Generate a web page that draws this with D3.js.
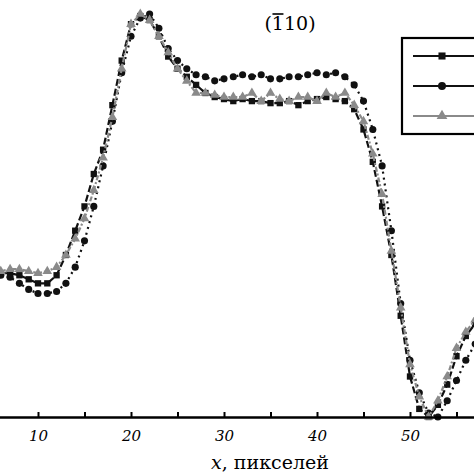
<!DOCTYPE html>
<html><head><meta charset="utf-8">
<script src="https://cdn.jsdelivr.net/npm/d3@7"></script>
<style>body{margin:0;background:#fff}svg{display:block}</style>
</head><body><svg id="c" width="474" height="474"></svg>
<script>
const xs = d3.range(6, 58);
const squareVals = [35.5,35.5,35,34,33,33,35,40,46,52,60,66,77,88,97,99,98,94,89,86,84,82,80,79,78.5,78,78.5,78,78,77.5,77.5,78,77,78,78.5,79,78.5,78,76,71,63,52,40,25,10,2,0,3,8,15,20,23];
const circleVals = [35,34.5,33,31.5,30.5,30.5,31,33,37,43.5,52,62,73,85,94,98.5,99.5,96,91,88,86,84.5,84,83,83.5,84,84.5,84,84.5,83.5,83.5,84,84,84.5,85,84.5,85,84,82,78,71,62,46,28,14,6,1,0,4,9,14,18];
const triangleVals = [36,36.5,36.5,36,35.5,36,37,40,44,49,56,64,74,86,97,99.5,98,94,90,86,83,80,80,79.5,79,79,79,80,78,80,78.5,78,79,79,78,80,79,80,77,73,65,55,41,27,13,5,0,4,10,17,21,24];
const xTicks = [10,20,30,40,50];

const svg = d3.select("#c");
const x = d3.scaleLinear().domain([0,60]).range([-55,503]);
const y = d3.scaleLinear().domain([0,100]).range([417,12]);

const series = [
  {vals: squareVals, color:"#111", dash:"7,3", sym:d3.symbolSquare},
  {vals: circleVals, color:"#111", dash:"2,4", sym:d3.symbolCircle},
  {vals: triangleVals, color:"#8a8a8a", dash:"5,2,2,2", sym:d3.symbolTriangle}
];
const line = d3.line().x((d,i)=>x(xs[i])).y(d=>y(d));
series.forEach(s=>{
  svg.append("path").attr("d", line(s.vals)).attr("fill","none")
    .attr("stroke", s.color).attr("stroke-width",2.2).attr("stroke-dasharray", s.dash);
  svg.append("g").selectAll("path").data(s.vals).join("path")
    .attr("transform",(d,i)=>`translate(${x(xs[i])},${y(d)})`)
    .attr("d", d3.symbol().type(s.sym).size(40)).attr("fill", s.color);
});

const ax = svg.append("g").attr("transform","translate(0,417)")
  .call(d3.axisBottom(x).tickValues(d3.range(5,60,5)).tickSize(-5).tickSizeOuter(0).tickFormat(d=>xTicks.includes(d)?d:""));
ax.select(".domain").attr("stroke","#000").attr("stroke-width",2.5);
ax.selectAll("line").attr("stroke","#000").attr("stroke-width",2);
ax.selectAll("text").attr("dy","1.4em").style("font-family","DejaVu Serif")
  .style("font-style","italic").style("font-size","15px").attr("fill","#000");

svg.append("text").attr("x",270).attr("y",469).attr("text-anchor","middle")
  .style("font-family","DejaVu Serif").style("font-size","19px")
  .html('<tspan font-style="italic">x</tspan>, пикселей');

const title = svg.append("text").attr("x",290).attr("y",30).attr("text-anchor","middle")
  .style("font-family","DejaVu Serif").style("font-size","19px").text("(110)");
// overbar above first "1"
const bb = title.node().getBBox();
svg.append("line").attr("x1",bb.x+8).attr("x2",bb.x+19).attr("y1",bb.y+2).attr("y2",bb.y+2)
  .attr("stroke","#000").attr("stroke-width",1.6);

svg.append("rect").attr("x",402).attr("y",38).attr("width",80).attr("height",96)
  .attr("fill","#fff").attr("stroke","#000").attr("stroke-width",2.2);
series.forEach((s,i)=>{
  const ly = 56 + i*30;
  svg.append("line").attr("x1",413).attr("x2",474).attr("y1",ly).attr("y2",ly)
    .attr("stroke",s.color).attr("stroke-width",2.2);
  svg.append("path").attr("transform",`translate(442,${ly})`)
    .attr("d", d3.symbol().type(s.sym).size(50)).attr("fill",s.color);
});
</script></body></html>
